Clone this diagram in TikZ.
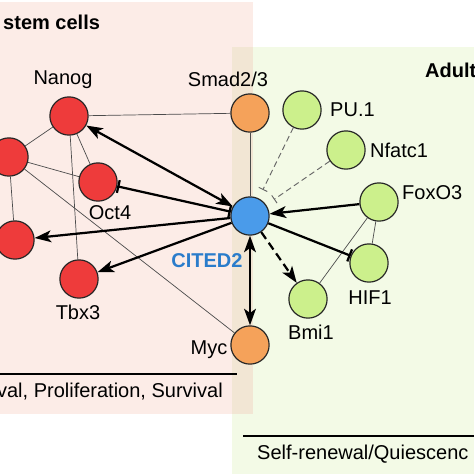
\documentclass[tikz,border=0pt]{standalone}
\usepackage{fontspec}
\setmainfont{Liberation Sans}
\usetikzlibrary{arrows.meta}

\definecolor{esred}{HTML}{EE3B3B}
\definecolor{smadorange}{HTML}{F5A25A}
\definecolor{citedblue}{HTML}{4A9BEA}
\definecolor{citedtext}{HTML}{2A7CCB}
\definecolor{adultgreen}{HTML}{CCF08C}
\definecolor{pinkbg}{HTML}{FCECE7}
\definecolor{greenbg}{HTML}{F3FAE6}
\definecolor{tanbg}{HTML}{F2E6D4}

\tikzset{
  gene/.style={circle,draw=black!85,line width=1pt,minimum size=32.5pt,inner sep=0pt},
  txt/.style={font=\fontsize{17}{20}\selectfont,inner sep=0pt},
  btxt/.style={font=\fontsize{17}{20}\selectfont\bfseries,inner sep=0pt},
  link/.style={draw=black!70,line width=0.6pt},
  act/.style={line width=1.9pt,>={Stealth[length=14pt,width=10pt,inset=3.5pt]}},
  inh/.style={line width=1.9pt,-{Bar[width=11pt]}},
  dinh/.style={draw=black!60,line width=0.8pt,dash pattern=on 5pt off 3pt,-{Bar[width=8pt]},shorten >=8pt}
}

\begin{document}
\begin{tikzpicture}[x=0.85pt,y=-0.85pt]
  \useasboundingbox (0,0) rectangle (474,474);
  % panels
  \fill[pinkbg] (0,2) rectangle (253,414);
  \fill[greenbg] (232,47) rectangle (474,474);
  \fill[tanbg] (232,47) rectangle (253,414);

  % genes
  \node[gene,fill=esred] (nanog) at (69,116) {};
  \node[gene,fill=esred] (esa) at (9,157) {};
  \node[gene,fill=esred] (oct) at (98,182) {};
  \node[gene,fill=esred] (esb) at (15,240) {};
  \node[gene,fill=esred] (tbx) at (79,279) {};
  \node[gene,fill=smadorange] (smad) at (250,113) {};
  \node[gene,fill=citedblue] (cited) at (250,216) {};
  \node[gene,fill=smadorange] (myc) at (250,345) {};
  \node[gene,fill=adultgreen] (pu) at (302,110) {};
  \node[gene,fill=adultgreen] (nfat) at (346,150) {};
  \node[gene,fill=adultgreen] (foxo) at (379,202) {};
  \node[gene,fill=adultgreen] (hif) at (369,263) {};
  \node[gene,fill=adultgreen] (bmi) at (308,299) {};

  % thin links
  \draw[link] (nanog) -- (smad);
  \draw[link] (nanog) -- (esa);
  \draw[link] (nanog) -- (oct);
  \draw[link] (nanog) -- (tbx);
  \draw[link] (esa) -- (oct);
  \draw[link] (esa) -- (esb);
  \draw[link] (esa) -- (myc);
  \draw[link] (smad) -- (cited);
  \draw[link] (foxo) -- (hif);
  \draw[link] (foxo) -- (bmi);

  % CITED2 links
  \draw[act,<->] (nanog) -- (cited);
  \draw[line width=1.9pt,{Bar[width=11pt]}-{Bar[width=11pt]}] (oct) -- (cited);
  \draw[act,->] (cited) -- (esb);
  \draw[act,->] (cited) -- (tbx);
  \draw[act,<->] (cited) -- (myc);
  \draw[act,->,dash pattern=on 7pt off 4pt] (cited) -- (bmi);
  \draw[inh] (cited) -- (hif);
  \draw[act,->] (foxo) -- (cited);
  \draw[dinh] (pu) -- (cited);
  \draw[dinh] (nfat) -- (cited);

  % labels
  \node[txt] (nanogtxt) at (63,80) {Nanog};
  \node[txt] (smadtxt) at (228,79) {Smad2/3};
  \node[txt] (octtxt) at (110,213) {Oct4};
  \node[txt] (tbxtxt) at (78,312) {Tbx3};
  \node[txt] (myctxt) at (209,350) {Myc};
  \node[btxt,text=citedtext] (citedtxt) at (207,261) {CITED2};
  \node[txt,anchor=west] (putxt) at (330,110) {PU.1};
  \node[txt,anchor=west] (nfattxt) at (370,150) {Nfatc1};
  \node[txt,anchor=west] (foxotxt) at (402,193) {FoxO3};
  \node[txt] (hiftxt) at (370,298) {HIF1};
  \node[txt] (bmitxt) at (311,332) {Bmi1};

  % panel titles
  \node[btxt,anchor=west] (estitle) at (3,22) {stem cells};
  \node[btxt,anchor=west] (adtitle) at (425,70) {Adult};
  \draw[line width=1pt] (0,374) -- (237,374);
  \node[txt,anchor=east] (esfoot) at (223,392) {val, Proliferation, Survival};
  \draw[line width=1pt] (243,436) -- (474,436);
  \node[txt,anchor=west] (adfoot) at (257,454) {Self-renewal/Quiescenc};
\end{tikzpicture}
\end{document}
